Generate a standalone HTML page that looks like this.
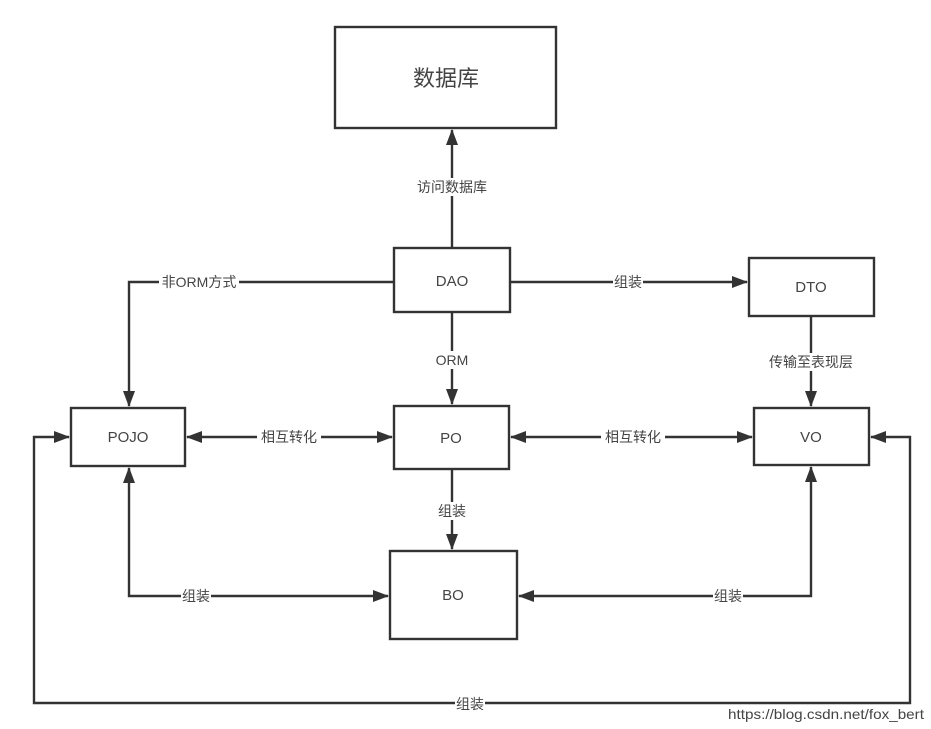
<!DOCTYPE html>
<html><head><meta charset="utf-8"><style>
html,body{margin:0;padding:0;background:#fff;}
svg{display:block;}
text{font-family:"Liberation Sans","Noto Sans CJK SC",sans-serif;fill:#444;}
</style></head><body>
<svg width="931" height="729" viewBox="0 0 931 729" xmlns="http://www.w3.org/2000/svg">
<defs>
<marker id="a" markerWidth="16" markerHeight="12" refX="15" refY="6" orient="auto" markerUnits="userSpaceOnUse" viewBox="0 0 16 12">
<path d="M0,0 L16,6 L0,12 z" fill="#333"/></marker>
<marker id="s" markerWidth="16" markerHeight="12" refX="1" refY="6" orient="auto" markerUnits="userSpaceOnUse" viewBox="0 0 16 12">
<path d="M16,0 L0,6 L16,12 z" fill="#333"/></marker>
</defs>
<g fill="none" stroke="#333" stroke-width="2.4">
<rect x="335" y="27" width="221" height="101"/>
<rect x="394" y="248" width="116" height="64"/>
<rect x="749" y="258" width="125" height="58"/>
<rect x="71" y="408" width="114" height="58"/>
<rect x="394" y="406" width="115" height="63"/>
<rect x="754" y="408" width="115" height="57"/>
<rect x="390" y="551" width="127" height="88"/>
<path d="M452 248 V130" marker-end="url(#a)"/>
<path d="M394 282 H129 V406" marker-end="url(#a)"/>
<path d="M510 282 H747" marker-end="url(#a)"/>
<path d="M811 316 V406" marker-end="url(#a)"/>
<path d="M452 312 V404" marker-end="url(#a)"/>
<path d="M187 437 H392" marker-start="url(#s)" marker-end="url(#a)"/>
<path d="M511 437 H752" marker-start="url(#s)" marker-end="url(#a)"/>
<path d="M452 469 V549" marker-end="url(#a)"/>
<path d="M129 468 V596 H388" marker-start="url(#s)" marker-end="url(#a)"/>
<path d="M811 467 V596 H519" marker-start="url(#s)" marker-end="url(#a)"/>
<path d="M69 437 H34 V703 H910 V437 H871" marker-start="url(#s)" marker-end="url(#a)"/>
</g>
<g fill="#fff">
<rect x="412" y="178" width="80" height="18"/>
<rect x="159" y="273" width="80" height="18"/>
<rect x="613" y="273" width="30" height="18"/>
<rect x="766" y="353" width="90" height="18"/>
<rect x="433" y="351" width="38" height="18"/>
<rect x="257" y="428" width="64" height="18"/>
<rect x="601" y="428" width="64" height="18"/>
<rect x="437" y="502" width="30" height="18"/>
<rect x="181" y="587" width="30" height="18"/>
<rect x="713" y="587" width="30" height="18"/>
<rect x="455" y="694" width="30" height="18"/>
</g>
<g font-size="14" text-anchor="middle">
<text x="446" y="86" font-size="22" fill="#333">数据库</text>
<text x="452" y="286" font-size="15">DAO</text>
<text x="811" y="292" font-size="15">DTO</text>
<text x="128" y="442" font-size="15">POJO</text>
<text x="451" y="443" font-size="15">PO</text>
<text x="811" y="442" font-size="15">VO</text>
<text x="453" y="600" font-size="15">BO</text>
<text x="452" y="192">访问数据库</text>
<text x="199" y="287">非ORM方式</text>
<text x="628" y="287">组装</text>
<text x="811" y="367">传输至表现层</text>
<text x="452" y="365">ORM</text>
<text x="289" y="442">相互转化</text>
<text x="633" y="442">相互转化</text>
<text x="452" y="516">组装</text>
<text x="196" y="601">组装</text>
<text x="728" y="601">组装</text>
<text x="470" y="709">组装</text>
<text x="826" y="719" font-size="14" fill="#ddd" textLength="196" lengthAdjust="spacingAndGlyphs">https://blog.csdn.net/fox_bert</text>
</g>
</svg>
</body></html>
